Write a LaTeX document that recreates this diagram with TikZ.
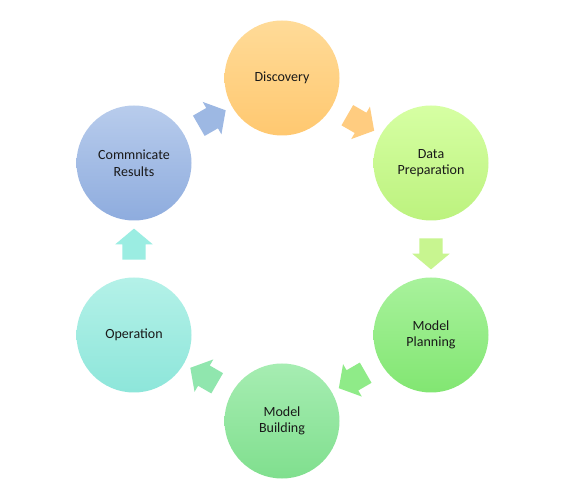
\documentclass[tikz,border=0pt]{standalone}
\usepackage{fontspec}
\setmainfont{Carlito}
\usetikzlibrary{shapes.arrows,calc}
\definecolor{dT}{HTML}{FFDB98}\definecolor{dB}{HTML}{FFC870}
\definecolor{pT}{HTML}{D6FFA3}\definecolor{pB}{HTML}{BCF27E}
\definecolor{mT}{HTML}{A8F29C}\definecolor{mB}{HTML}{82E672}
\definecolor{bT}{HTML}{A6EDB2}\definecolor{bB}{HTML}{80DF8E}
\definecolor{oT}{HTML}{B4F1E8}\definecolor{oB}{HTML}{8DE6DA}
\definecolor{cT}{HTML}{B8CCEC}\definecolor{cB}{HTML}{8EACDE}
\definecolor{aC}{HTML}{9DB8E3}\definecolor{aD}{HTML}{FFCC80}
\definecolor{aP}{HTML}{C8F590}\definecolor{aM}{HTML}{8FEB88}
\definecolor{aB}{HTML}{90E6AE}\definecolor{aO}{HTML}{9BEDE2}
\tikzset{
  stage/.style 2 args={circle, minimum size=115pt, inner sep=0pt, align=center,
    top color=#1, bottom color=#2, font=\fontsize{14}{16.5}\selectfont, text=black!90},
  cyclearrow/.style={single arrow, fill=#1, draw=none, minimum height=31pt,
    inner xsep=0pt, inner ysep=11.5pt, text width=0pt, text height=0pt, text depth=0pt,
    single arrow head extend=7pt, single arrow tip angle=100}
}
\begin{document}
\begin{tikzpicture}[x=1pt,y=-1pt]
\useasboundingbox (0,0) rectangle (574,500);
\fill[white] (0,0) rectangle (574,500);
\node[stage={dT}{dB}] (disc) at (282,78) {Discovery};
\node[stage={pT}{pB}] (prep) at (431,163) {Data\\Preparation};
\node[stage={mT}{mB}] (plan) at (431,335) {Model\\Planning};
\node[stage={bT}{bB}] (build) at (282,421) {Model\\Building};
\node[stage={oT}{oB}] (oper) at (134,335) {Operation};
\node[stage={cT}{cB}] (comm) at (134,163) {Commnicate\\Results};
\node[cyclearrow=aC, rotate=30] (a1) at ($(comm)!0.5!(disc)$) {};
\node[cyclearrow=aD, rotate=-30] (a2) at ($(disc)!0.5!(prep)$) {};
\node[cyclearrow=aP, rotate=-90] (a3) at ($(prep)!0.5!(plan)$) {};
\node[cyclearrow=aM, rotate=210] (a4) at ($(plan)!0.5!(build)$) {};
\node[cyclearrow=aB, rotate=150] (a5) at ($(build)!0.5!(oper)$) {};
\node[cyclearrow=aO, rotate=90] (a6) at ($(oper)!0.5!(comm)$) {};
\end{tikzpicture}
\end{document}
